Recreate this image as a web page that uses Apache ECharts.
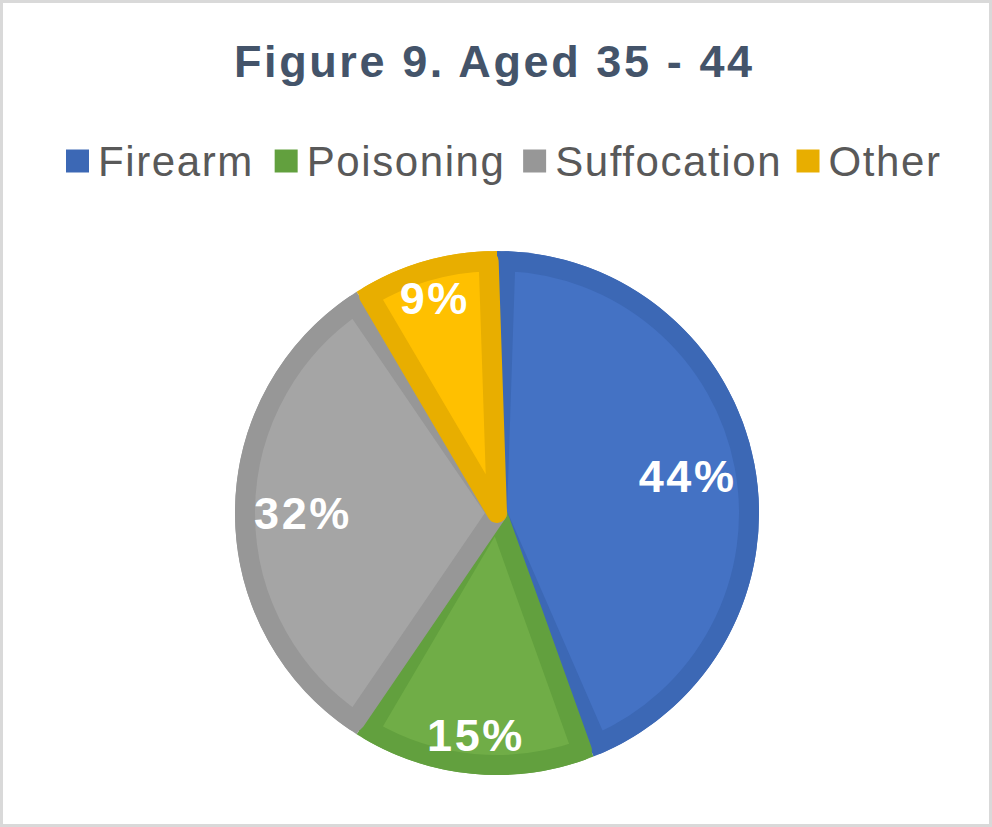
<!DOCTYPE html>
<html>
<head>
<meta charset="utf-8">
<script src="https://cdn.jsdelivr.net/npm/echarts@6/dist/echarts.min.js"></script>
<style>
html,body{margin:0;padding:0;background:#ffffff}
#chart{position:absolute;left:0;top:0;width:992px;height:827px}
#frame{position:absolute;left:0;top:0;width:992px;height:827px;box-sizing:border-box;border:3px solid #d9d9d9;pointer-events:none}
#chart svg text{letter-spacing:1.6px}
#chart svg text[style*="45px"]{letter-spacing:2.6px}
</style>
</head>
<body>
<div id="chart"></div>
<div id="frame"></div>
<script>
// ---- data ----
const titleText = 'Figure 9. Aged 35 - 44';
const categories = ['Firearm', 'Poisoning', 'Suffocation', 'Other'];
const percentValues = [44, 15, 32, 9];
// ---- style ----
const fillColors = ['#4472C4', '#70AD47', '#A5A5A5', '#FFC000'];
const edgeColors = ['#3C68B5', '#62A03E', '#979797', '#E8AE00'];
const labelRing = ['near', 'far', 'near', 'far'];

const FONT = "'Liberation Sans', Arial, sans-serif";
const CENTER = [497, 513];
const R = 262;
const EDGE_W = 20;

function makeData(colorArr, extra) {
  return categories.map((name, i) => Object.assign({
    name: name,
    value: percentValues[i],
    itemStyle: { color: colorArr[i] }
  }, extra ? extra(i) : {}));
}

const common = {
  type: 'pie',
  center: CENTER,
  startAngle: 90,
  clockwise: true,
  avoidLabelOverlap: false,
  silent: true,
  animation: false,
  emphasis: { disabled: true },
  labelLine: { show: false }
};

const labelStyle = {
  position: 'inside',
  formatter: '{c}%',
  color: '#ffffff',
  fontSize: 45,
  fontWeight: 'bold',
  fontFamily: FONT
};

const option = {
  animation: false,
  textStyle: { fontFamily: FONT },
  title: {
    text: titleText,
    left: 234,
    top: 39,
    padding: 0,
    textStyle: { fontSize: 45, fontWeight: 'bold', color: '#44546A', fontFamily: FONT }
  },
  legend: {
    data: categories,
    left: 66,
    top: 140,
    padding: 0,
    icon: 'rect',
    itemWidth: 23,
    itemHeight: 23,
    itemGap: 32,
    itemStyle: { borderWidth: 0 },
    selectedMode: false,
    textStyle: { fontSize: 42, color: '#595959', fontFamily: FONT, padding: [0, 0, 0, 4] }
  },
  series: [
    Object.assign({}, common, {
      name: 'edge',
      radius: [0, R],
      label: { show: false },
      data: makeData(edgeColors)
    }),
    Object.assign({}, common, {
      name: 'fill',
      radius: [0, R - EDGE_W / 2],
      padAngle: 3.8,
      label: { show: false },
      data: makeData(fillColors, i => ({
        itemStyle: { color: fillColors[i], borderColor: edgeColors[i], borderWidth: EDGE_W, borderJoin: 'round' }
      }))
    }),
    Object.assign({}, common, {
      name: 'labels-near',
      radius: [120, R],
      label: labelStyle,
      data: makeData(fillColors, i => ({
        itemStyle: { color: 'rgba(0,0,0,0)' },
        label: { show: labelRing[i] === 'near' }
      }))
    }),
    Object.assign({}, common, {
      name: 'labels-far',
      radius: [178, R],
      label: labelStyle,
      data: makeData(fillColors, i => ({
        itemStyle: { color: 'rgba(0,0,0,0)' },
        label: { show: labelRing[i] === 'far' }
      }))
    })
  ]
};

const chart = echarts.init(document.getElementById('chart'), null, { renderer: 'svg' });
chart.setOption(option);
</script>
</body>
</html>
